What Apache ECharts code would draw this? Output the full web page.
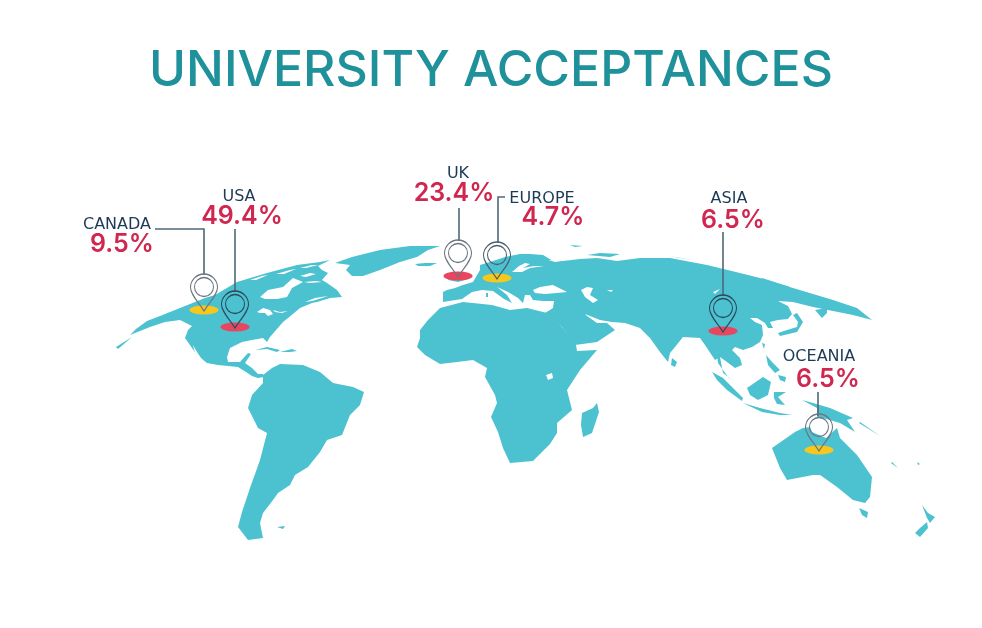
<!DOCTYPE html>
<html><head><meta charset="utf-8">
<style>html,body{margin:0;padding:0;background:#fff}#c{width:982px;height:628px}</style>
<script src="https://cdn.jsdelivr.net/npm/echarts@6/dist/echarts.min.js"></script>
</head><body><div id="c"></div>
<script>
// ---- chart values
const chartTitle = 'UNIVERSITY ACCEPTANCES';
const regionNames = ['CANADA','USA','UK','EUROPE','ASIA','OCEANIA'];
const shares = ['9.5%','49.4%','23.4%','4.7%','6.5%','6.5%'];
const pinColors = ['#f6c71c','#e8465f','#e8465f','#f6c71c','#e8465f','#f6c71c'];
const pinStrokes = ['#6d7680','#2b4a5c','#6d7680','#49606e','#2b4a5c','#6d7680'];
// map-plane locations (x right, y down, same frame as the outlines)
const pinPlaces = [[204,311],[235,328],[458,277],[497,279],[723,332],[819,451]];
const namePlaces = [[117,225],[239,197],[458,174],[542,199],[729,199],[819,357]];
const sharePlaces = [[122,244],[242,216],[454,193],[553,217],[733,220],[828,379]];
const leaderPaths = [
  [[155,229],[204,229],[204,275]],
  [[235,229],[235,292]],
  [[459,208],[459,241]],
  [[505,197],[498,197],[498,243]],
  [[723,232],[723,296]],
  [[818,392],[818,416]]
];
// ---- land outlines
const landOutlines = [
 // North America
 [[130,335],[136,329],[147,321],[160,316],[175,310],[190,304],[205,298],[215,295],[237,282],[267,273],[297,265],[320,262],[330,260],[318,266],[322,270],[328,273],[322,280],[327,283],[337,290],[342,297],[330,298],[317,302],[312,303],[300,308],[288,318],[283,322],[270,337],[267,342],[263,338],[252,340],[242,342],[230,348],[227,357],[228,362],[240,362],[248,353],[251,354],[245,363],[252,368],[258,374],[263,374],[264,377],[258,378],[252,376],[246,372],[238,367],[228,366],[218,365],[207,363],[197,355],[185,338],[188,330],[192,326],[180,320],[165,322],[150,327],[140,331]],
 [[116,347],[132,337],[133,338],[118,349]],
 // Greenland, Iceland
 [[335,263],[352,257],[380,250],[410,246],[440,246],[428,250],[417,257],[400,262],[380,270],[363,276],[352,276],[346,270],[350,265]],
 [[415,264],[425,263],[437,263],[430,266],[418,266]],
 // Caribbean
 [[255,350],[267,347],[280,350],[277,352],[267,349]],
 [[280,352],[292,349],[297,351],[290,352]],
 // South America
 [[263,375],[272,368],[280,364],[303,365],[320,372],[333,383],[353,387],[364,392],[360,405],[350,415],[342,435],[327,440],[320,452],[308,467],[295,475],[290,485],[278,493],[273,500],[263,513],[260,523],[263,538],[248,540],[238,527],[242,512],[250,488],[260,460],[267,433],[258,428],[248,408],[252,395],[263,383]],
 [[277,527],[285,526],[283,529]],
 // Eurasia
 [[443,292],[447,290],[455,288],[463,285],[473,282],[480,270],[480,265],[490,262],[505,257],[520,254],[530,254],[543,255],[553,261],[563,261],[580,259],[597,258],[617,261],[640,258],[670,258],[707,265],[740,273],[760,278],[793,288],[833,300],[857,308],[872,320],[853,315],[833,311],[813,307],[793,302],[778,301],[788,306],[792,314],[788,319],[778,320],[770,322],[773,328],[768,328],[765,323],[757,318],[750,318],[755,322],[762,325],[763,335],[760,342],[752,347],[743,350],[735,347],[732,350],[740,358],[742,365],[735,368],[727,362],[720,357],[715,360],[705,345],[700,338],[683,337],[675,347],[670,353],[668,362],[660,352],[650,338],[640,328],[625,323],[612,322],[600,320],[585,314],[587,316],[597,323],[607,323],[615,330],[597,342],[575,345],[562,327],[545,313],[553,308],[554,301],[543,301],[533,300],[530,295],[525,295],[523,303],[518,298],[508,292],[497,287],[507,295],[512,303],[504,299],[493,291],[482,290],[472,292],[462,299],[443,302]],
 // Malay peninsula
 [[717,355],[720,357],[723,373],[735,382],[728,377],[718,363]],
 // Sri Lanka
 [[672,358],[677,362],[675,367],[671,365]],
 // Britain, Sardinia
 [[452,272],[462,272],[468,279],[458,282],[448,280]],
 [[486,293],[488,293],[488,297],[486,297]],
 // Arctic Eurasia
 [[587,255],[600,253],[620,254],[610,257]],
 [[670,256],[693,260],[680,258]],
 [[570,245],[583,246],[575,247]],
 [[762,278],[790,287],[788,288],[762,280]],
 // Japan, Kamchatka
 [[778,333],[787,330],[797,327],[798,322],[793,315],[797,313],[803,322],[797,332],[780,336]],
 [[815,310],[827,308],[827,313],[822,318]],
 // Taiwan
 [[762,343],[765,344],[764,349]],
 // Africa, Madagascar
 [[440,308],[463,302],[492,305],[510,310],[527,308],[547,313],[562,327],[576,345],[577,351],[597,350],[580,370],[567,390],[572,410],[557,423],[557,433],[550,444],[533,461],[510,463],[503,448],[498,432],[491,417],[497,403],[495,395],[485,377],[487,368],[480,364],[473,360],[457,362],[440,364],[425,355],[417,347],[420,338],[420,330],[428,320]],
 [[597,403],[599,412],[592,433],[583,437],[581,425],[582,413],[593,408]],
 // SE Asia islands
 [[766,355],[772,362],[780,370],[775,373],[768,365]],
 [[778,375],[786,377],[785,382],[780,380]],
 [[712,372],[723,378],[743,398],[742,401],[727,390],[717,380]],
 [[743,403],[760,408],[780,413],[792,415],[780,415],[762,412]],
 [[747,388],[763,377],[771,382],[768,395],[758,400],[750,395]],
 [[774,392],[786,392],[778,397],[785,405],[777,404],[774,398]],
 // New Guinea, Australia, Tasmania, New Zealand
 [[802,400],[813,403],[830,408],[853,418],[847,420],[855,432],[840,423],[823,418],[817,417],[817,408]],
 [[772,448],[795,432],[803,428],[810,427],[812,432],[826,438],[837,428],[840,438],[857,455],[872,477],[870,497],[865,503],[853,500],[837,487],[830,482],[820,475],[813,475],[787,480],[780,468]],
 [[859,508],[868,512],[867,518],[862,515]],
 [[922,505],[928,513],[935,517],[930,523],[927,518]],
 [[927,522],[920,528],[915,533],[920,537],[928,528]],
 // Pacific specks
 [[860,422],[880,436],[879,437],[859,423]],
 [[892,462],[898,468],[897,469],[891,463]],
 [[893,450],[897,455],[896,456]],
 [[917,462],[920,464],[918,465]]
];
// ---- inland water cut out of the land
const waterOutlines = [
 // Hudson Bay and strait
 [[260,297],[268,290],[283,287],[293,278],[303,282],[292,288],[287,297],[277,299],[265,299]],
 [[304,282],[316,281],[322,282],[310,283]],
 // Arctic channels
 [[250,280],[262,276],[268,275],[256,280]],
 [[276,274],[290,270],[296,269],[284,274]],
 [[300,276],[310,273],[316,274],[306,277]],
 [[300,268],[312,265],[318,265],[306,268]],
 // Great Lakes
 [[257,312],[263,308],[270,310],[273,314],[268,316],[265,313],[260,313]],
 [[273,310],[280,312],[288,311],[282,313],[275,312]],
 // St Lawrence
 [[305,302],[315,298],[328,296],[322,298],[312,301]],
 // Gulf of California
 [[193,345],[197,352],[203,361],[200,360],[195,353]],
 // Caspian, Aral, Black Sea
 [[581,290],[587,287],[593,288],[590,295],[598,300],[593,303],[585,297]],
 [[607,290],[613,290],[611,292]],
 [[533,290],[540,287],[553,285],[567,292],[557,293],[545,294],[535,293]],
 // Baltic, White Sea
 [[512,272],[519,266],[525,263],[530,264],[523,268],[534,266],[544,266],[530,268],[522,272]],
 [[548,260],[562,261],[555,262]],
 // African lakes
 [[546,375],[552,373],[553,378],[548,380]],
 [[539,385],[540,385],[544,393],[543,394]],
 [[553,397],[554,397],[556,408],[555,408]],
 // Baikal
 [[713,292],[720,289],[721,290],[715,294]]
];

const flip = p => [p[0], 628 - p[1]];
const feature = (ring, name) => ({
  type:'Feature', properties:{name},
  geometry:{type:'Polygon', coordinates:[ring.concat([ring[0]]).map(flip)]}
});
const landNames = landOutlines.map((_,i)=>'land'+i);
const waterNames = waterOutlines.map((_,i)=>'water'+i);
echarts.registerMap('world', {type:'FeatureCollection', features:
  landOutlines.map((r,i)=>feature(r,landNames[i])).concat(waterOutlines.map((r,i)=>feature(r,waterNames[i])))});

const WIDE_FONT = '"DejaVu Sans", Inter, sans-serif';
const NUM_FONT = 'Inter, "Noto Sans", sans-serif';
const PIN = 'path://M13.5 0A13.5 13.5 0 0 1 27 13.5C27 20 20 27 13.5 37C7 27 0 20 0 13.5A13.5 13.5 0 0 1 13.5 0ZM23 13A9.5 9.5 0 1 1 4 13A9.5 9.5 0 1 1 23 13Z';
const ELLIPSE = 'path://M0 50A50 50 0 1 1 100 50A50 50 0 1 1 0 50Z';

const chart = echarts.init(document.getElementById('c'), null, {renderer:'canvas'});
chart.setOption({
  animation:false,
  backgroundColor:'#ffffff',
  title:{text:chartTitle, left:'center', top:41,
    textStyle:{fontFamily:NUM_FONT, fontSize:50, fontWeight:500, color:'#1f919b'}},
  geo:{map:'world', roam:false, silent:true, aspectScale:1, left:0, right:0, top:0, bottom:0,
    boundingCoords:[[0,628],[982,0]],
    itemStyle:{areaColor:'#4cc1d0', borderWidth:0},
    label:{show:false}, emphasis:{disabled:true}, select:{disabled:true},
    regions:waterNames.map(name=>({name, itemStyle:{areaColor:'#ffffff', borderWidth:0}}))},
  series:[
    {type:'scatter', coordinateSystem:'geo', silent:true, symbol:ELLIPSE, symbolSize:[29,9],
     symbolOffset:[0,-1],
     data:pinPlaces.map((p,i)=>({value:flip(p), itemStyle:{color:pinColors[i], opacity:1}}))},
    {type:'lines', coordinateSystem:'geo', polyline:true, silent:true,
     lineStyle:{color:'#4f6877', width:1.6, opacity:1, curveness:0},
     data:leaderPaths.map(path=>({coords:path.map(flip)}))},
    {type:'scatter', coordinateSystem:'geo', silent:true, symbol:PIN, symbolSize:[27,37],
     symbolOffset:[0,'-50%'],
     data:pinPlaces.map((p,i)=>({value:flip(p), itemStyle:{color:'transparent', borderColor:pinStrokes[i], borderWidth:1.2, opacity:1}}))},
    {type:'scatter', coordinateSystem:'geo', silent:true, symbolSize:0, itemStyle:{opacity:1},
     label:{show:true, position:'inside', formatter:p=>p.name, fontFamily:WIDE_FONT, fontSize:16, fontWeight:400, color:'#1c3a55'},
     data:regionNames.map((n,i)=>({name:n, value:flip(namePlaces[i])}))},
    {type:'scatter', coordinateSystem:'geo', silent:true, symbolSize:0, itemStyle:{opacity:1},
     label:{show:true, position:'inside', formatter:p=>p.name, fontFamily:NUM_FONT, fontSize:25, fontWeight:600, color:'#d0264f'},
     data:shares.map((s,i)=>({name:s, value:flip(sharePlaces[i])}))}
  ]
});
</script></body></html>
